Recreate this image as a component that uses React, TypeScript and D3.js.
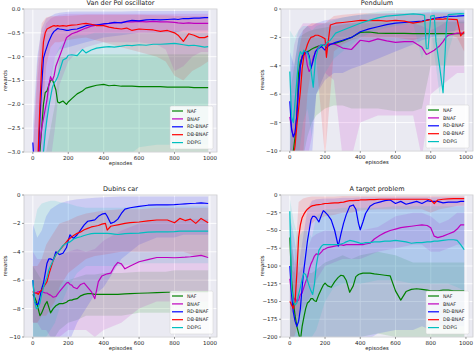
import React from "react";
import * as d3 from "d3";

// ---------- shared ----------
const SERIES_NAMES = ["NAF", "BNAF", "RD-BNAF", "DB-BNAF", "DDPG"];
const SERIES_COLORS = ["#008000", "#bf00bf", "#0000ff", "#ff0000", "#00bfbf"];
const EPISODE_TICKS = [0, 200, 400, 600, 800, 1000];
const BAND_X = [0, 25, 50, 75, 100, 125, 150, 200, 250, 300, 350, 400, 500, 600, 700, 750, 800, 850, 900, 950, 990];

// ---------- Van der Pol oscillator ----------
const vdpYTicks = [0, -0.5, -1, -1.5, -2, -2.5, -3];
const vdpX = [0,10,20,30,40,50,60,70,80,90,100,110,120,130,140,150,170,190,200,220,250,280,300,330,360,400,430,460,500,530,560,600,640,680,720,760,800,820,850,880,910,940,970,990];
const vdpNAF = [-3.5,-3.5,-3.5,-3.3,-3.0,-2.5,-2.0,-1.75,-1.72,-1.6,-1.5,-1.48,-1.58,-1.7,-1.95,-1.97,-1.93,-2.0,-1.95,-1.88,-1.78,-1.72,-1.66,-1.63,-1.6,-1.58,-1.61,-1.6,-1.62,-1.62,-1.62,-1.63,-1.63,-1.63,-1.63,-1.64,-1.64,-1.64,-1.64,-1.64,-1.65,-1.65,-1.65,-1.65];
const vdpBNAF = [-3.5,-3.5,-3.5,-3.3,-2.8,-2.5,-2.3,-2.1,-1.9,-1.6,-1.42,-1.5,-1.4,-1.2,-1.1,-1.0,-0.8,-0.6,-0.57,-0.52,-0.48,-0.43,-0.4,-0.36,-0.34,-0.32,-0.3,-0.29,-0.28,-0.27,-0.27,-0.26,-0.27,-0.26,-0.27,-0.27,-0.28,-0.29,-0.3,-0.29,-0.3,-0.3,-0.3,-0.3];
const vdpRD = [-2.8,-3.5,-3.5,-3.2,-2.3,-1.6,-1.03,-0.9,-0.79,-0.68,-0.6,-0.52,-0.47,-0.44,-0.41,-0.42,-0.43,-0.45,-0.45,-0.43,-0.42,-0.38,-0.35,-0.33,-0.34,-0.31,-0.3,-0.28,-0.29,-0.26,-0.24,-0.25,-0.23,-0.22,-0.23,-0.22,-0.21,-0.22,-0.2,-0.2,-0.19,-0.19,-0.18,-0.18];
const vdpDB = [-3.5,-3.5,-3.5,-3.0,-2.0,-1.2,-0.69,-0.5,-0.42,-0.4,-0.38,-0.36,-0.35,-0.36,-0.35,-0.36,-0.35,-0.36,-0.35,-0.34,-0.33,-0.31,-0.3,-0.32,-0.35,-0.35,-0.38,-0.4,-0.42,-0.4,-0.45,-0.42,-0.43,-0.44,-0.47,-0.45,-0.5,-0.55,-0.68,-0.52,-0.55,-0.6,-0.6,-0.57];
const vdpDDPG = [-3.5,-3.5,-3.5,-3.5,-3.5,-3.3,-3.0,-2.6,-2.3,-2.05,-1.85,-1.65,-1.55,-1.5,-1.42,-1.31,-1.07,-1.03,-0.97,-0.96,-0.98,-0.85,-0.92,-0.86,-0.82,-0.8,-0.79,-0.8,-0.78,-0.76,-0.77,-0.75,-0.76,-0.74,-0.74,-0.73,-0.72,-0.73,-0.75,-0.77,-0.76,-0.78,-0.8,-0.79];
const vdpNAFLo = [-3.5,-3.5,-3.5,-3.5,-3.5,-3.5,-3.5,-3.5,-3.5,-3.5,-3.5,-3.5,-3.5,-3.5,-3.5,-3.5,-3.5,-3.5,-3.5,-3.5,-3.5];
const vdpNAFHi = [-3.5,-3.5,-3.5,-3.0,-2.5,-2.0,-1.0,-1.0,-0.95,-0.95,-0.95,-0.95,-0.95,-0.95,-0.95,-0.95,-0.95,-0.95,-0.95,-0.95,-0.95];
const vdpBNAFLo = [-3.5,-3.5,-3.5,-3.5,-3.2,-2.5,-1.6,-1.1,-0.9,-0.8,-0.75,-0.7,-0.7,-0.7,-0.75,-0.85,-1.3,-1.2,-1.0,-0.9,-0.9];
const vdpBNAFHi = [-3.0,-1.5,-0.6,-0.3,-0.2,-0.15,-0.12,-0.1,-0.1,-0.1,-0.1,-0.1,-0.1,-0.1,-0.1,-0.1,-0.1,-0.1,-0.1,-0.1,-0.1];
const vdpRDLo = [-3.5,-3.5,-3.5,-2.5,-1.5,-1.0,-0.85,-0.8,-0.75,-0.7,-0.65,-0.6,-0.55,-0.5,-0.5,-0.5,-0.5,-0.45,-0.45,-0.45,-0.45];
const vdpRDHi = [-2.5,-1.0,-0.4,-0.2,-0.15,-0.1,-0.08,-0.06,-0.05,-0.05,-0.05,-0.05,-0.05,-0.04,-0.04,-0.04,-0.04,-0.04,-0.04,-0.04,-0.04];
const vdpDBLo = [-3.5,-3.5,-2.5,-1.2,-0.8,-0.7,-0.7,-0.65,-0.62,-0.6,-0.65,-0.7,-0.8,-0.9,-1.0,-1.1,-1.4,-1.5,-1.3,-1.2,-1.1];
const vdpDBHi = [-3.0,-1.2,-0.3,-0.18,-0.15,-0.15,-0.15,-0.14,-0.13,-0.12,-0.12,-0.12,-0.12,-0.12,-0.13,-0.13,-0.14,-0.15,-0.15,-0.15,-0.15];
const vdpDDPGLo = [-3.5,-3.5,-3.5,-3.5,-3.5,-3.5,-3.5,-3.5,-3.5,-3.5,-3.5,-3.5,-3.2,-2.9,-2.85,-2.85,-2.85,-2.85,-2.85,-2.85,-2.85];
const vdpDDPGHi = [-3.5,-3.5,-3.0,-2.0,-1.4,-1.0,-0.8,-0.6,-0.55,-0.55,-0.5,-0.5,-0.5,-0.5,-0.48,-0.48,-0.45,-0.48,-0.5,-0.5,-0.5];

// ---------- Pendulum ----------
const penYTicks = [0, -2, -4, -6, -8, -10];
const penX = [0,10,20,30,40,50,60,70,80,90,100,110,120,133,145,160,180,200,208,218,230,260,300,350,400,450,500,550,600,650,700,750,765,775,785,800,820,830,850,870,880,890,900,950,970,990];
const penNAF = [-10.5,-10.5,-10,-9,-7.5,-4.5,-3.7,-3.4,-3.2,-3.1,-3.0,-2.95,-2.85,-2.77,-2.7,-2.62,-2.6,-2.5,-2.55,-2.5,-2.48,-2.4,-2.25,-2.0,-1.65,-1.62,-1.7,-1.72,-1.72,-1.72,-1.73,-1.73,-1.73,-1.73,-1.73,-1.74,-1.74,-1.74,-1.74,-1.74,-1.74,-1.74,-1.74,-1.74,-1.74,-1.74];
const penBNAF = [-7.6,-8.4,-9.0,-8.7,-7.5,-5.7,-4.0,-3.3,-3.0,-3.2,-4.0,-4.4,-4.2,-3.4,-3.1,-2.7,-2.5,-2.5,-2.55,-2.5,-2.45,-2.5,-2.75,-2.85,-2.2,-2.3,-2.1,-2.25,-2.35,-2.3,-2.3,-2.7,-3.0,-3.2,-3.15,-3.05,-2.9,-2.8,-2.6,-2.3,-2.1,-1.95,-1.85,-1.7,-1.7,-1.7];
const penRD = [-6.5,-8.5,-9.0,-8.7,-7.5,-5.5,-4.0,-3.4,-3.0,-3.1,-3.0,-3.3,-4.2,-3.6,-3.0,-2.8,-2.65,-2.9,-2.7,-2.6,-2.5,-2.35,-2.2,-2.0,-1.6,-1.4,-1.25,-1.1,-1.0,-0.95,-0.9,-0.85,-0.8,-0.78,-0.75,-0.72,-0.66,-0.64,-0.6,-0.57,-0.55,-0.54,-0.52,-0.5,-0.48,-0.47];
const penDB = [-10.5,-10.5,-10.5,-9.6,-8.2,-7.0,-5.8,-4.2,-3.3,-2.9,-2.5,-2.2,-2.0,-1.95,-1.85,-1.85,-1.95,-2.1,-3.4,-2.3,-1.13,-1.0,-0.95,-0.88,-0.8,-0.82,-0.8,-0.85,-0.8,-0.85,-1.0,-0.9,-0.85,-0.8,-0.78,-0.75,-0.72,-0.72,-0.7,-0.72,-0.7,-0.7,-0.72,-0.75,-1.9,-1.6];
const penDDPG = [-4.4,-7.6,-8.0,-6.5,-5.0,-3.5,-3.0,-3.2,-2.9,-3.0,-3.1,-3.5,-4.3,-5.5,-3.6,-2.8,-2.5,-2.6,-2.4,-2.3,-2.2,-1.7,-1.5,-1.25,-1.0,-0.8,-0.62,-0.5,-0.45,-0.4,-0.35,-0.4,-0.45,-2.8,-2.8,-0.5,-0.45,-2.3,-4.0,-5.9,-3.5,-1.0,-0.4,-0.35,-0.33,-0.35];
const penNAFLo = [-10.5,-10.5,-10.5,-10.5,-9,-8,-7.5,-7,-6.8,-6.8,-7,-7,-7,-7.2,-7.2,-7,-4,-4,-4,-4,-4];
const penNAFHi = [-6,-4,-2,-1.8,-1.6,-1.5,-1.4,-1.3,-1.2,-1.1,-1.0,-0.9,-0.9,-0.9,-0.9,-0.9,-0.9,-0.9,-0.9,-0.9,-0.9];
const penBNAFLo = [-10.5,-10.5,-10.5,-10.5,-10.5,-9,-6,-4.5,-5,-10.5,-10.5,-8,-7.5,-7.5,-7.5,-10.5,-6,-5.5,-5,-4.5,-4.5];
const penBNAFHi = [-5,-2.5,-1.5,-1.0,-1.0,-1.0,-1.0,-1.0,-1.0,-1.0,-1.0,-1.0,-1.0,-1.0,-1.0,-1.2,-1.5,-1.2,-0.8,-0.8,-0.8];
const penRDLo = [-10.5,-10.5,-10.5,-10.5,-10.5,-10.5,-6,-5,-4.5,-4.5,-4.2,-4,-3.5,-3,-2.5,-2.2,-2,-1.8,-1.6,-1.5,-1.5];
const penRDHi = [-3,-4,-2,-1.5,-1.2,-1.2,-1.0,-0.8,-0.7,-0.6,-0.5,-0.4,-0.35,-0.3,-0.3,-0.25,-0.2,-0.2,-0.2,-0.2,-0.2];
const penDBLo = [-10.5,-10.5,-10.5,-10.5,-6,-4,-3.5,-10.5,-3,-2.5,-2.2,-2,-2,-2,-2.2,-2,-1.8,-1.8,-1.8,-2,-3];
const penDBHi = [-10,-7,-3,-1.5,-1.2,-1.0,-1.0,-1.0,-0.5,-0.4,-0.35,-0.3,-0.3,-0.3,-0.3,-0.3,-0.3,-0.3,-0.3,-0.3,-0.5];
const penDDPGLo = [-10.5,-10.5,-10.5,-8,-7,-9,-6,-4.5,-3.5,-3,-2.5,-2,-1.5,-1.2,-1.0,-3.5,-1.2,-6,-3,-1.0,-1.0];
const penDDPGHi = [-1.5,-2,-1.5,-1.2,-1.2,-1.5,-1.2,-1.0,-0.8,-0.6,-0.5,-0.4,-0.2,-0.1,-0.05,-0.05,-0.05,-0.05,-0.05,-0.05,-0.05];

// ---------- Dubins car ----------
const dubYTicks = [0, -2, -4, -6, -8, -10];
const dubX = [0,10,20,30,40,50,60,70,80,90,100,115,130,150,170,190,200,210,220,230,250,270,290,310,330,350,370,390,410,420,440,460,480,500,520,550,600,650,700,760,800,830,860,890,920,950,990];
const dubNAF = [-7.0,-7.2,-7.5,-8.0,-8.5,-8.3,-8.0,-7.7,-7.5,-7.9,-8.3,-8.0,-7.8,-7.65,-7.65,-7.55,-7.45,-7.4,-7.4,-7.35,-7.3,-7.1,-7.0,-6.95,-6.95,-7.0,-7.0,-7.0,-7.0,-7.0,-7.0,-7.0,-7.0,-6.98,-6.96,-6.94,-6.92,-6.9,-6.88,-6.85,-6.85,-6.83,-6.82,-6.82,-6.8,-6.8,-6.8];
const dubBNAF = [-6.8,-6.9,-6.9,-6.8,-6.8,-6.8,-6.85,-6.9,-6.9,-7.0,-7.05,-7.2,-7.15,-6.8,-6.5,-6.2,-6.15,-6.3,-6.35,-6.5,-6.6,-6.3,-6.2,-6.5,-6.8,-7.3,-6.1,-5.7,-5.6,-5.55,-5.5,-5.05,-4.75,-4.85,-5.2,-5.0,-4.7,-4.55,-4.4,-4.4,-4.42,-4.4,-4.38,-4.35,-4.3,-4.25,-4.4];
const dubRD = [-6.0,-7.5,-7.7,-7.7,-7.2,-6.6,-6.2,-5.5,-4.8,-4.5,-4.5,-4.6,-4.0,-4.2,-4.1,-3.7,-3.2,-2.8,-2.95,-3.05,-2.8,-2.45,-2.1,-1.85,-1.8,-1.75,-1.5,-1.35,-1.3,-1.5,-2.0,-1.9,-1.7,-1.3,-1.0,-0.9,-0.8,-0.72,-0.7,-0.7,-0.68,-0.65,-0.62,-0.6,-0.58,-0.55,-0.6];
const dubDB = [-6.8,-6.9,-6.9,-7.0,-6.8,-6.7,-6.5,-6.3,-6.1,-5.6,-5.2,-4.6,-4.2,-3.9,-3.6,-3.3,-3.15,-3.05,-2.95,-2.85,-2.7,-2.6,-2.45,-2.35,-2.25,-2.2,-2.15,-2.05,-2.0,-2.47,-2.2,-2.15,-2.1,-2.05,-2.0,-1.95,-1.9,-1.82,-1.76,-1.76,-1.95,-1.65,-1.8,-1.7,-2.0,-1.65,-1.95];
const dubDDPG = [-6.0,-7.5,-8.0,-7.9,-7.6,-7.0,-6.5,-6.1,-5.8,-5.3,-5.0,-4.6,-4.2,-3.9,-3.55,-3.4,-3.35,-3.3,-3.2,-3.1,-3.0,-2.94,-2.85,-2.78,-2.72,-2.7,-2.7,-2.7,-2.7,-2.7,-2.72,-2.75,-2.78,-2.75,-2.72,-2.7,-2.68,-2.62,-2.6,-2.6,-2.58,-2.55,-2.55,-2.55,-2.55,-2.55,-2.55];
const dubNAFLo = [-10.5,-10.5,-10.5,-10.5,-10.5,-10,-9.5,-9,-8.8,-8.5,-8.5,-8.5,-8.5,-8.3,-8.3,-8.3,-8.3,-8.3,-8.3,-8.3,-8.3];
const dubNAFHi = [-5,-5.5,-6,-6,-6,-6,-6,-6,-5.8,-5.6,-5.6,-5.5,-5.5,-5.4,-5.4,-5.4,-5.3,-5.3,-5.3,-5.3,-5.3];
const dubBNAFLo = [-9,-9,-9.5,-9.5,-10,-10,-10,-9.5,-9.5,-9.5,-10,-9.5,-9,-8,-7.5,-7.5,-7.5,-7.5,-7.5,-7.5,-7.5];
const dubBNAFHi = [-4,-4.5,-4.5,-4.5,-4.5,-4.5,-4.3,-4,-3.8,-4,-3.8,-3.2,-2.5,-2,-1.8,-1.8,-1.8,-1.8,-1.7,-1.7,-1.7];
const dubRDLo = [-10.5,-10.5,-10.5,-10.5,-10.5,-10.5,-10.5,-10.5,-9,-8,-7,-6.5,-4.5,-3.5,-3,-3,-3,-2.8,-2.8,-2.8,-2.8];
const dubRDHi = [-2,-3,-2.5,-1.5,-1,-0.8,-0.6,-0.4,-0.3,-0.25,-0.2,-0.15,-0.1,-0.1,-0.1,-0.1,-0.1,-0.1,-0.1,-0.1,-0.1];
const dubDBLo = [-9,-9,-8.5,-8.5,-8,-7.5,-6.5,-5.5,-5,-4.5,-4.3,-4.2,-4,-4,-4,-4,-4,-4,-4.2,-4.3,-4.3];
const dubDBHi = [-5,-5,-4.5,-3.5,-3,-2.5,-2,-1.8,-1.5,-1.3,-1.2,-1.1,-1.0,-1.0,-0.9,-0.9,-0.9,-0.9,-0.9,-0.9,-0.9];
const dubDDPGLo = [-10.5,-10.5,-10.5,-10,-9.5,-9,-8,-6.5,-5.5,-5,-5,-5,-5,-4.8,-4.8,-4.8,-4.8,-4.8,-4.8,-4.8,-4.8];
const dubDDPGHi = [-2.5,-1.0,-0.6,-0.5,-0.4,-0.4,-0.5,-0.6,-0.8,-0.9,-0.9,-0.9,-0.9,-0.8,-0.8,-0.8,-0.8,-0.8,-0.8,-0.8,-0.8];

// ---------- A target problem ----------
const tgtYTicks = [0, -25, -50, -75, -100, -125, -150, -175, -200];
const tgtX = [0,5,10,20,30,40,50,60,70,80,90,100,110,120,130,140,150,165,180,190,200,215,235,255,275,290,305,320,340,360,375,390,400,415,430,455,480,510,540,570,600,630,660,690,720,750,780,800,820,840,870,900,930,950,970,990];
const tgtNAF = [-60,-90,-120,-150,-170,-185,-195,-205,-185,-172,-160,-152,-150,-146,-146,-149,-150,-140,-132,-127,-124,-128,-130,-122,-116,-113,-114,-120,-137,-128,-115,-112,-111,-110,-110,-110,-111,-112,-113,-114,-135,-148,-136,-133,-132,-133,-134,-135,-135,-135,-134,-134,-135,-135,-135,-135];
const tgtBNAF = [-118,-128,-137,-150,-145,-150,-148,-140,-138,-130,-122,-116,-105,-97,-92,-86,-83,-84,-80,-77,-76,-74,-73,-72,-71,-70,-71,-70,-70,-70,-70,-70,-70,-70,-69,-68,-62,-57,-53,-50,-48,-46,-45,-44,-43,-42,-43,-46,-58,-60,-58,-55,-52,-48,-42,-42];
const tgtRD = [-100,-120,-140,-165,-178,-185,-178,-160,-130,-105,-85,-65,-50,-35,-30,-30,-32,-38,-28,-22,-24,-28,-35,-50,-72,-55,-40,-28,-16,-14,-20,-40,-49,-38,-26,-16,-12,-10,-8,-7,-12,-9,-13,-11,-9,-12,-8,-9,-9,-9,-11,-10,-10,-10,-9,-9];
const tgtDB = [-150,-152,-155,-160,-150,-110,-60,-42,-32,-27,-23,-20,-18,-16,-15,-14.5,-14,-13.5,-13,-12.5,-12,-12,-11.5,-11,-11,-10.5,-10,-9,-8,-8,-7.5,-7.5,-7,-7,-7,-6.5,-6.5,-6,-6,-6,-6,-6,-6,-6,-6,-6,-6,-7,-12,-7,-6,-5.5,-5,-5,-5,-5];
const tgtDDPG = [-23,-80,-130,-150,-155,-152,-140,-130,-118,-110,-112,-120,-128,-135,-140,-125,-100,-78,-72,-70,-70,-70,-70,-70,-70,-69,-68,-66,-64,-65,-66,-67,-68,-68,-67,-67,-66,-66,-65,-65,-64,-65,-66,-68,-67,-67,-66,-66,-65,-65,-64,-63,-63,-64,-70,-77];
const tgtNAFLo = [-210,-210,-210,-210,-210,-210,-210,-210,-200,-200,-205,-200,-195,-200,-200,-200,-200,-200,-200,-200,-200];
const tgtNAFHi = [-30,-100,-150,-140,-110,-110,-105,-95,-90,-85,-90,-85,-80,-85,-95,-95,-95,-95,-95,-95,-95];
const tgtBNAFLo = [-160,-170,-170,-160,-150,-140,-120,-100,-95,-90,-90,-90,-80,-75,-70,-70,-80,-80,-75,-70,-70];
const tgtBNAFHi = [-60,-90,-110,-100,-75,-60,-55,-50,-50,-50,-50,-50,-45,-30,-25,-25,-30,-40,-35,-25,-25];
const tgtRDLo = [-210,-210,-210,-210,-210,-210,-210,-205,-205,-210,-200,-210,-195,-190,-190,-185,-190,-185,-185,-185,-185];
const tgtRDHi = [-30,-60,-100,-60,-20,-8,-6,-5,-5,-4,-4,-3,-3,-3,-3,-3,-3,-3,-3,-3,-3];
const tgtDBLo = [-200,-200,-180,-100,-50,-40,-35,-30,-28,-25,-25,-22,-20,-20,-20,-20,-25,-20,-18,-15,-15];
const tgtDBHi = [-100,-110,-10,-5,-3,-2,-2,-2,-2,-1.5,-1.5,-1.5,-1,-1,-1,-1,-1,-1,-1,-1,-1];
const tgtDDPGLo = [-200,-200,-200,-200,-200,-200,-190,-150,-130,-125,-125,-125,-120,-120,-125,-125,-125,-125,-125,-130,-135];
const tgtDDPGHi = [-5,-40,-60,-50,-50,-60,-30,-20,-20,-18,-18,-18,-18,-16,-16,-16,-16,-16,-16,-16,-16];

type PanelDef = {
  id: string;
  title: string;
  box: { left: number; right: number; top: number; bottom: number };
  yTicks: number[];
  yFmt: (v: number) => string;
  x: number[];
  lines: number[][];
  lo: number[][];
  hi: number[][];
};

const fmt1 = d3.format(".1f");
const fmt0 = d3.format("d");

const PANELS: PanelDef[] = [
  {
    id: "vdp", title: "Van der Pol oscillator",
    box: { left: 24, right: 217, top: 9, bottom: 152 },
    yTicks: vdpYTicks, yFmt: fmt1, x: vdpX,
    lines: [vdpNAF, vdpBNAF, vdpRD, vdpDB, vdpDDPG],
    lo: [vdpNAFLo, vdpBNAFLo, vdpRDLo, vdpDBLo, vdpDDPGLo],
    hi: [vdpNAFHi, vdpBNAFHi, vdpRDHi, vdpDBHi, vdpDDPGHi],
  },
  {
    id: "pen", title: "Pendulum",
    box: { left: 281, right: 473, top: 9, bottom: 151 },
    yTicks: penYTicks, yFmt: fmt0, x: penX,
    lines: [penNAF, penBNAF, penRD, penDB, penDDPG],
    lo: [penNAFLo, penBNAFLo, penRDLo, penDBLo, penDDPGLo],
    hi: [penNAFHi, penBNAFHi, penRDHi, penDBHi, penDDPGHi],
  },
  {
    id: "dub", title: "Dubins car",
    box: { left: 24, right: 217, top: 195, bottom: 337 },
    yTicks: dubYTicks, yFmt: fmt0, x: dubX,
    lines: [dubNAF, dubBNAF, dubRD, dubDB, dubDDPG],
    lo: [dubNAFLo, dubBNAFLo, dubRDLo, dubDBLo, dubDDPGLo],
    hi: [dubNAFHi, dubBNAFHi, dubRDHi, dubDBHi, dubDDPGHi],
  },
  {
    id: "tgt", title: "A target problem",
    box: { left: 281, right: 473, top: 195, bottom: 337 },
    yTicks: tgtYTicks, yFmt: fmt0, x: tgtX,
    lines: [tgtNAF, tgtBNAF, tgtRD, tgtDB, tgtDDPG],
    lo: [tgtNAFLo, tgtBNAFLo, tgtRDLo, tgtDBLo, tgtDDPGLo],
    hi: [tgtNAFHi, tgtBNAFHi, tgtRDHi, tgtDBHi, tgtDDPGHi],
  },
];

const FONT = "'DejaVu Sans', sans-serif";

function Panel({ p }: { p: PanelDef }) {
  const { left, right, top, bottom } = p.box;
  const xs = d3.scaleLinear().domain([-50, 1040]).range([left, right]);
  const yMin = Math.min(...p.yTicks);
  const yMax = Math.max(...p.yTicks);
  const ys = d3.scaleLinear().domain([yMin, yMax]).range([bottom, top]);
  const cx = (left + right) / 2;
  const cy = (top + bottom) / 2;
  const clipId = `clip-${p.id}`;

  const area = (lo: number[], hi: number[]) =>
    d3.area<number>()
      .x((_, i) => xs(BAND_X[i]))
      .y0((_, i) => ys(lo[i]))
      .y1((_, i) => ys(hi[i]))(lo.slice(0, Math.min(lo.length, hi.length, BAND_X.length))) || "";

  const line = (vals: number[]) =>
    d3.line<number>()
      .x((_, i) => xs(p.x[i]))
      .y((d) => ys(d))(vals.slice(0, Math.min(vals.length, p.x.length))) || "";

  const lg = { x: right - 47, y: bottom - 46, w: 43, h: 43 };

  return (
    <g>
      <defs>
        <clipPath id={clipId}>
          <rect x={left} y={top} width={right - left} height={bottom - top} />
        </clipPath>
      </defs>
      <rect x={left} y={top} width={right - left} height={bottom - top} fill="#eaeaf2" />
      {EPISODE_TICKS.map((t) => (
        <line key={`gx${t}`} x1={xs(t)} x2={xs(t)} y1={top} y2={bottom} stroke="#fff" strokeWidth={0.9} />
      ))}
      {p.yTicks.map((t) => (
        <line key={`gy${t}`} x1={left} x2={right} y1={ys(t)} y2={ys(t)} stroke="#fff" strokeWidth={0.9} />
      ))}
      <g clipPath={`url(#${clipId})`}>
        {p.lo.map((lo, i) => (
          <path key={`b${i}`} d={area(lo, p.hi[i])} fill={SERIES_COLORS[i]} fillOpacity={0.13} stroke="none" />
        ))}
        {p.lines.map((vals, i) => (
          <path key={`l${i}`} d={line(vals)} fill="none" stroke={SERIES_COLORS[i]} strokeWidth={1.2} strokeLinejoin="round" />
        ))}
      </g>
      <rect x={left} y={top} width={right - left} height={bottom - top} fill="none" stroke="#c8c8cc" strokeWidth={0.8} />
      {EPISODE_TICKS.map((t) => (
        <g key={`tx${t}`}>
          <line x1={xs(t)} x2={xs(t)} y1={bottom} y2={bottom + 2} stroke="#555" strokeWidth={0.6} />
          <text x={xs(t)} y={bottom + 7.5} fontSize={5.5} textAnchor="middle" fill="#222" fontFamily={FONT}>{t}</text>
        </g>
      ))}
      {p.yTicks.map((t) => (
        <g key={`ty${t}`}>
          <line x1={left - 2} x2={left} y1={ys(t)} y2={ys(t)} stroke="#555" strokeWidth={0.6} />
          <text x={left - 3.5} y={ys(t)} dy="0.35em" fontSize={5.5} textAnchor="end" fill="#222" fontFamily={FONT}>{p.yFmt(t)}</text>
        </g>
      ))}
      <text x={cx} y={top - 4} fontSize={6.5} textAnchor="middle" fill="#222" fontFamily={FONT}>{p.title}</text>
      <text x={cx} y={bottom + 13} fontSize={5.3} textAnchor="middle" fill="#222" fontFamily={FONT}>episodes</text>
      <text transform={`translate(${left - 17.5},${cy}) rotate(-90)`} fontSize={5.3} textAnchor="middle" fill="#222" fontFamily={FONT}>rewards</text>
      <rect x={lg.x} y={lg.y} width={lg.w} height={lg.h} rx={1.5} fill="#ffffff" fillOpacity={0.85} stroke="#d0d0d0" strokeWidth={0.5} />
      {SERIES_NAMES.map((name, i) => {
        const yy = lg.y + 5 + i * 7.9;
        return (
          <g key={name}>
            <line x1={lg.x + 2} x2={lg.x + 13} y1={yy} y2={yy} stroke={SERIES_COLORS[i]} strokeWidth={1.2} />
            <text x={lg.x + 17} y={yy} dy="0.35em" fontSize={4.8} fill="#222" fontFamily={FONT}>{name}</text>
          </g>
        );
      })}
    </g>
  );
}

export default function App() {
  return (
    <svg width={474} height={353} style={{ position: "absolute", left: 0, top: 0, background: "#ffffff" }}>
      <rect x={0} y={0} width={474} height={353} fill="#ffffff" />
      {PANELS.map((p) => (
        <Panel key={p.id} p={p} />
      ))}
    </svg>
  );
}
